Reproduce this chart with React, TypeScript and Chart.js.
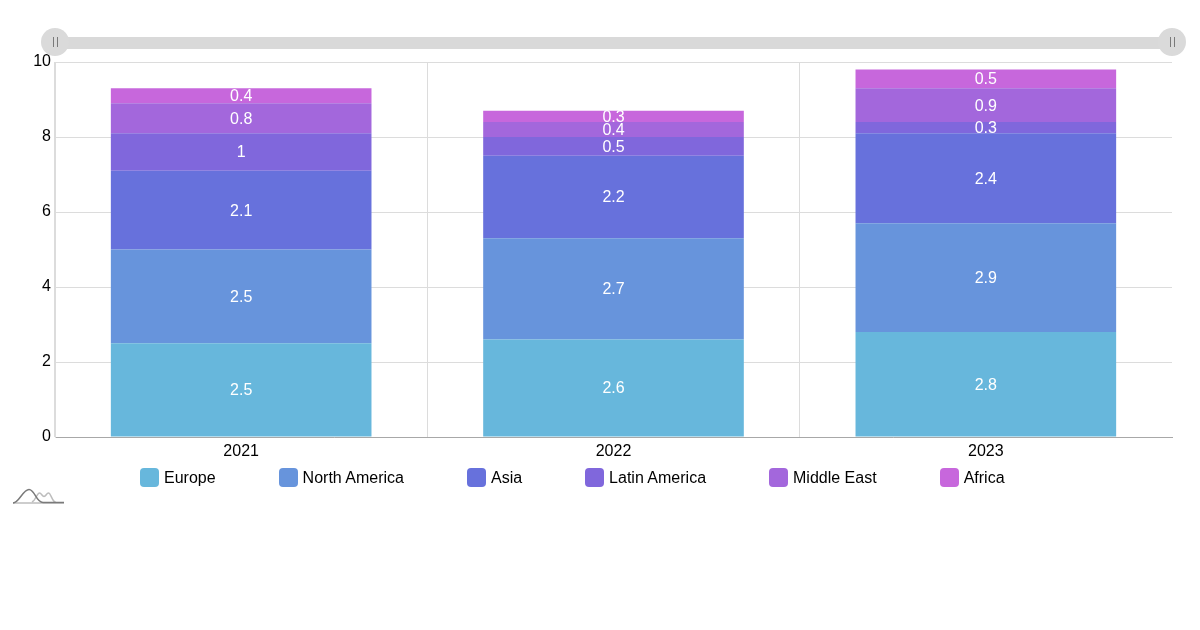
import React, { useEffect, useRef } from "react";
import { Chart, registerables } from "chart.js";

Chart.register(...registerables);

const categories = ["2021", "2022", "2023"];
const europe = [2.5, 2.6, 2.8];
const northAmerica = [2.5, 2.7, 2.9];
const asia = [2.1, 2.2, 2.4];
const latinAmerica = [1, 0.5, 0.3];
const middleEast = [0.8, 0.4, 0.9];
const africa = [0.4, 0.3, 0.5];
const seriesNames = ["Europe", "North America", "Asia", "Latin America", "Middle East", "Africa"];
const seriesValues = [europe, northAmerica, asia, latinAmerica, middleEast, africa];
const colors = ["#67b7dc", "#6794dc", "#6771dc", "#8067dc", "#a367dc", "#c767dc"];
const yTicks = [0, 2, 4, 6, 8, 10];

const FONT = '"Liberation Sans", Arial, Helvetica, sans-serif';

const segLabels = {
  id: "segLabels",
  afterDatasetsDraw(chart: any) {
    const ctx = chart.ctx;
    ctx.save();
    ctx.fillStyle = "#ffffff";
    ctx.font = `16px ${FONT}`;
    ctx.textAlign = "center";
    ctx.textBaseline = "middle";
    chart.data.datasets.forEach((ds: any, i: number) => {
      const meta = chart.getDatasetMeta(i);
      meta.data.forEach((el: any, j: number) => {
        const p = el.getProps(["x", "y", "base"], true);
        ctx.fillText(String(ds.data[j]), p.x, (p.y + p.base) / 2 + 1);
      });
    });
    ctx.restore();
  },
};

export default function App() {
  const ref = useRef<HTMLCanvasElement | null>(null);

  useEffect(() => {
    document.body.style.margin = "0";
    if (!ref.current) return;
    Chart.defaults.font.family = FONT;
    Chart.defaults.font.size = 16;
    Chart.defaults.color = "#000";
    const chart = new Chart(ref.current, {
      type: "bar",
      data: {
        labels: categories,
        datasets: seriesNames.map((name, i) => ({
          label: name,
          data: seriesValues[i],
          backgroundColor: colors[i],
          borderWidth: 0,
          categoryPercentage: 1,
          barPercentage: 0.7,
        })),
      },
      options: {
        responsive: false,
        animation: false,
        layout: { padding: { top: 62, right: 28, bottom: 163, left: 0 } },
        plugins: { legend: { display: false }, tooltip: { enabled: false } },
        scales: {
          x: {
            stacked: true,
            grid: {
              offset: true,
              drawTicks: false,
              color: (c: any) => (c.type === "tick" ? "#dcdcdc" : "rgba(0,0,0,0)"),
            },
            border: { display: true, color: "#a8a8a8" },
            ticks: { padding: 5, color: "#000", font: { size: 16 } },
            afterFit: (s: any) => {
              s.height = 30;
            },
          },
          y: {
            stacked: true,
            min: 0,
            max: 10,
            afterBuildTicks: (s: any) => {
              s.ticks = yTicks.map((v) => ({ value: v }));
            },
            grid: { drawTicks: false, color: "#dcdcdc" },
            border: { display: true, color: "#dcdcdc" },
            ticks: { padding: 4, color: "#000", font: { size: 16 } },
            afterFit: (s: any) => {
              s.width = 55;
            },
          },
        },
      },
      plugins: [segLabels],
    });
    return () => chart.destroy();
  }, []);

  const grip = (left: number) => (
    <div
      style={{
        position: "absolute",
        left: left - 14,
        top: 28,
        width: 28,
        height: 28,
        borderRadius: "50%",
        background: "#dadada",
      }}
    >
      <div style={{ position: "absolute", left: 12, top: 9, width: 1, height: 10, background: "#7a7a7a" }} />
      <div style={{ position: "absolute", left: 16, top: 9, width: 1, height: 10, background: "#7a7a7a" }} />
    </div>
  );

  return (
    <div style={{ position: "relative", width: 1200, height: 630, background: "#fff", fontFamily: FONT }}>
      <canvas ref={ref} width={1200} height={630} style={{ position: "absolute", left: 0, top: 0 }} />
      <div style={{ position: "absolute", left: 55, top: 37, width: 1117, height: 12, background: "#d9d9d9" }} />
      {grip(55)}
      {grip(1172)}
      <div
        style={{
          position: "absolute",
          left: 140,
          top: 468,
          display: "flex",
          alignItems: "center",
          height: 19,
          whiteSpace: "nowrap",
        }}
      >
        {seriesNames.map((name, i) => (
          <div key={name} style={{ display: "flex", alignItems: "center", marginRight: i < seriesNames.length - 1 ? 63 : 0 }}>
            <div style={{ width: 19, height: 19, borderRadius: 4, background: colors[i], marginRight: 5 }} />
            <span style={{ fontSize: 16, color: "#000", lineHeight: "19px" }}>{name}</span>
          </div>
        ))}
      </div>
      <svg
        style={{ position: "absolute", left: 13, top: 487 }}
        width={52}
        height={18}
        viewBox="0 0 52 18"
      >
        <path d="M0 16 L51 16" stroke="#bdbdbd" strokeWidth={1.5} fill="none" />
        <path d="M19 15 C23 13 24 6 26.5 6 C28.5 6 29 9.5 31 9.5 C33 9.5 33.5 6 35.5 6 C38 6 39 15 43 15.5" stroke="#bdbdbd" strokeWidth={1.5} fill="none" />
        <path d="M0 16 C6 16 10 2.5 16 2.5 C22 2.5 23 15.5 30 15.5 L51 15.5" stroke="#7a7a7a" strokeWidth={1.5} fill="none" />
      </svg>
    </div>
  );
}
